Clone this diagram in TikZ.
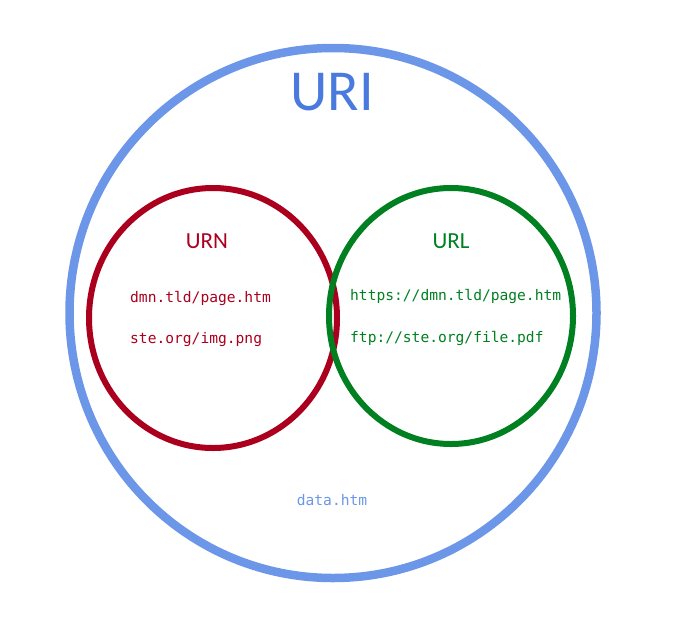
\documentclass[tikz,border=0pt]{standalone}
\usepackage{fontspec}
\setmonofont{DejaVu Sans Mono}
\newfontfamily\labelfont{Carlito}
\usepackage{tikz}
\usetikzlibrary{shapes.geometric,positioning}
\definecolor{uriblue}{RGB}{108,150,232}
\definecolor{uritext}{RGB}{74,122,222}
\definecolor{urnred}{RGB}{170,0,30}
\definecolor{urlgreen}{RGB}{0,128,32}

\begin{document}
\begin{tikzpicture}[
            x=1pt,y=-1pt,
            set/.style={ellipse,draw,inner sep=0pt},
            title/.style={font=\labelfont\fontsize{23}{23}\selectfont},
            item/.style={anchor=west,inner sep=0pt,font=\ttfamily\fontsize{14.6}{14.6}\selectfont}
        ]
        \useasboundingbox (0,0) rectangle (674,621);

        % Draw sets %
        \node[set,draw=uriblue,line width=8.5pt,minimum width=527pt,minimum height=530pt] (uri) at (333,313) {};
        \node[set,draw=urnred,line width=6pt,minimum width=248pt,minimum height=260pt] (urn) at (213,318) {};
        \node[set,draw=urlgreen,line width=6pt,minimum width=244pt,minimum height=256pt] (url) at (451,316) {};

        % Draw labels %
        \node[font=\labelfont\fontsize{58}{58}\selectfont,text=uritext] (urilabel) at (332,92) {URI};
        \node[title,text=urnred] (urnlabel) at (207,241) {URN};
        \node[title,text=urlgreen] (urllabel) at (451,241) {URL};

        % Draw members %
        \node[item,text=urnred] (urn1) at (130,298) {dmn.tld/page.htm};
        \node[item,text=urnred] (urn2) at (130,340) {ste.org/img.png};
        \node[item,text=urlgreen] (url1) at (350,296) {https://dmn.tld/page.htm};
        \node[item,text=urlgreen] (url2) at (350,338) {ftp://ste.org/file.pdf};
        \node[item,anchor=center,text=uriblue] (uri1) at (332,500) {data.htm};
\end{tikzpicture}
\end{document}
